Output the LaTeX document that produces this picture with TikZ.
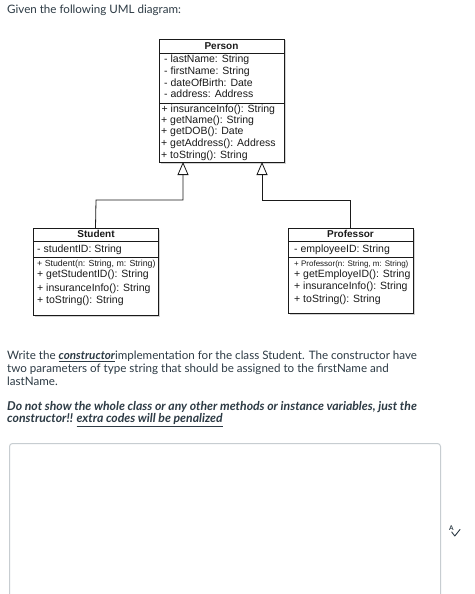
\documentclass[tikz,border=0pt]{standalone}
\usepackage{fontspec}
\setmainfont{Lato}
\newfontfamily\umlfont{Liberation Sans}
\usetikzlibrary{arrows.meta,shadows}
\definecolor{canvastext}{HTML}{2D3B45}
\definecolor{framegray}{HTML}{C7CDD1}
\definecolor{umlink}{HTML}{1A1A1A}
\begin{document}
\begin{tikzpicture}[x=1pt,y=-1pt,
  classbox/.style={draw=umlink,line width=0.9pt,fill=white,rectangle,anchor=north west,inner sep=0pt,outer sep=0pt,
    drop shadow={opacity=0.35,shadow xshift=1.5pt,shadow yshift=-1.5pt}},
  umlline/.style={anchor=base west,inner sep=0pt,font=\umlfont\fontsize{10.5}{12}\selectfont,text=umlink},
  umlsmall/.style={anchor=base west,inner sep=0pt,font=\umlfont\fontsize{8.8}{10}\selectfont,text=umlink},
  umltiny/.style={anchor=base west,inner sep=0pt,font=\umlfont\fontsize{8}{9}\selectfont,text=umlink},
  umltitle/.style={anchor=base,inner sep=0pt,font=\umlfont\bfseries\fontsize{10}{12}\selectfont,text=umlink},
  divider/.style={draw=umlink,line width=0.9pt},
  inh/.style={draw=umlink,line width=0.8pt,-{Triangle[open,length=13pt,width=11pt]}},
  pagetext/.style={anchor=base west,inner sep=0pt,font=\fontsize{11.6}{14}\selectfont,text=canvastext},
  pagebold/.style={anchor=base west,inner sep=0pt,font=\bfseries\itshape\fontsize{12.2}{14}\selectfont,text=canvastext},
]
\useasboundingbox (0,0) rectangle (474,594);
\fill[white] (0,0) rectangle (474,594);

% heading
\node[pagetext] (given) at (7,14) {Given the following UML diagram:};

% Person
\node[classbox,minimum width=125pt,minimum height=123pt] (person) at (159,39) {};
\draw[divider] ([yshift=-14pt]person.north west) -- ([yshift=-14pt]person.north east);
\draw[divider] ([yshift=-64pt]person.north west) -- ([yshift=-64pt]person.north east);
\node[umltitle] (ptitle) at (221.5,49) {Person};
\node[umlline] (p1) at (164,63) {- lastName: String};
\node[umlline] (p2) at (164,74.7) {- firstName: String};
\node[umlline] (p3) at (164,86.3) {- dateOfBirth: Date};
\node[umlline] (p4) at (164,97.8) {- address: Address};
\node[umlline] (p5) at (161.5,112.3) {+ insuranceInfo(): String};
\node[umlline] (p6) at (161,123.5) {+ getName(): String};
\node[umlline] (p7) at (161,134.7) {+ getDOB(): Date};
\node[umlline] (p8) at (161,146.5) {+ getAddress(): Address};
\node[umlline] (p9) at (161,158.3) {+ toString(): String};

% Student
\node[classbox,minimum width=125pt,minimum height=87pt] (student) at (33,228) {};
\draw[divider] ([yshift=-13pt]student.north west) -- ([yshift=-13pt]student.north east);
\draw[divider] ([yshift=-29pt]student.north west) -- ([yshift=-29pt]student.north east);
\node[umltitle] (stitle) at (96,237.8) {Student};
\node[umlline] (s1) at (37,252.5) {- studentID: String};
\node[umlsmall] (s2) at (37,266.5) {+ Student(n: String, m: String)};
\node[umlline] (s3) at (37,277.5) {+ getStudentID(): String};
\node[umlline] (s4) at (37,291) {+ insuranceInfo(): String};
\node[umlline] (s5) at (37,303.3) {+ toString(): String};

% Professor
\node[classbox,minimum width=125pt,minimum height=85pt] (prof) at (288,228) {};
\draw[divider] ([yshift=-13pt]prof.north west) -- ([yshift=-13pt]prof.north east);
\draw[divider] ([yshift=-29pt]prof.north west) -- ([yshift=-29pt]prof.north east);
\node[umltitle] (ptitle2) at (350.5,237.8) {Professor};
\node[umlline] (r1) at (294,252.5) {- employeeID: String};
\node[umltiny] (r2) at (294,266) {+ Professor(n: String, m: String)};
\node[umlline] (r3) at (294,277.3) {+ getEmployeID(): String};
\node[umlline] (r4) at (294,289) {+ insuranceInfo(): String};
\node[umlline] (r5) at (294,302.7) {+ toString(): String};

% generalization connectors
\coordinate (pl) at (183,162);
\coordinate (pr) at (262,162);
\coordinate (jl) at (96,200);
\coordinate (jr) at (350.5,200);
\draw[inh] (student.north) -- (jl) -| (pl);
\draw[inh] (prof.north) -- (jr) -| (pr);

% question text
\node[pagetext] (q1) at (7,359.3) {Write the \textbf{\textit{\underline{constructor}}}implementation for the class Student. The constructor have};
\node[pagetext] (q2) at (7,372.7) {two parameters of type string that should be assigned to the firstName and};
\node[pagetext] (q3) at (7,385.5) {lastName.};
\node[pagebold] (q4) at (7,410) {Do not show the whole class or any other methods or instance variables, just the};
\node[pagebold] (q5) at (7,422.7) {constructor!! \underline{extra codes will be penalized}};

% answer box
\begin{scope}
\clip (0,0) rectangle (474,594);
\draw[framegray,line width=1pt,rounded corners=3pt] (9.5,443.5) rectangle (440.5,620);
\end{scope}
\node[anchor=base,inner sep=0pt,font=\bfseries\fontsize{6.5}{7}\selectfont,text=canvastext] (icona) at (451.3,530.5) {A};
\draw[canvastext,line width=0.9pt,line cap=round,line join=round] (451.7,532) -- (454.8,536) -- (460,529.5);
\end{tikzpicture}
\end{document}
